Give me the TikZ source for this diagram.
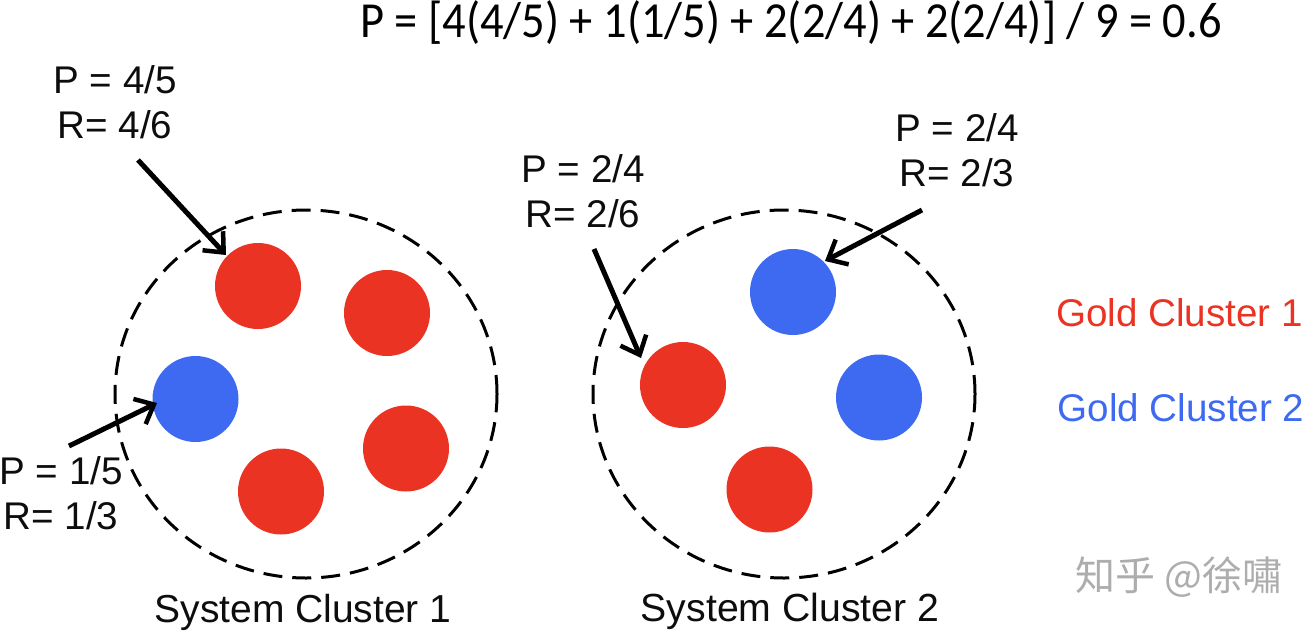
\documentclass[tikz,border=0pt]{standalone}
\usepackage{fontspec}
\setmainfont{Liberation Sans}
\newfontfamily\carl[FakeStretch=0.92]{Carlito}
\newfontfamily\cjk{Noto Sans CJK SC}
\usetikzlibrary{arrows.meta,shapes.geometric}
\definecolor{goldred}{HTML}{EA3323}
\definecolor{goldblue}{HTML}{3D6AF0}
\tikzset{
  x=1pt,y=-1pt,
  lab/.style={align=center,font=\fontsize{38.6}{45}\selectfont,inner sep=0pt,text=black!95},
  dot/.style={circle,minimum size=86pt,inner sep=0pt},
  rd/.style={dot,fill=goldred},
  bl/.style={dot,fill=goldblue},
  syscl/.style={draw=black,line width=3pt,dash pattern=on 19pt off 10pt},
  arr/.style={draw=black,line width=5pt,-{Straight Barb[length=16pt,width=28pt,line width=4.5pt]}},
}
\begin{document}
\begin{tikzpicture}
\useasboundingbox (0,0) rectangle (1316,632);
\node[syscl,ellipse,minimum width=382pt,minimum height=368pt,inner sep=0pt] (s1) at (306,394) {};
\node[syscl,ellipse,minimum width=382pt,minimum height=368pt,inner sep=0pt] (s2) at (784,394) {};
\node[rd] (a1) at (258,286) {};
\node[rd] (a2) at (387,313) {};
\node[bl] (a3) at (195.5,399) {};
\node[rd] (a4) at (406,448.5) {};
\node[rd] (a5) at (281,491.5) {};
\node[bl] (b1) at (793,292) {};
\node[bl] (b2) at (879,397.5) {};
\node[rd] (b3) at (683,385) {};
\node[rd] (b4) at (769.5,489.5) {};
\node[font=\carl\fontsize{50.5}{54}\selectfont,inner sep=0pt,text=black] (title) at (791,23) {P = [4(4/5) + 1(1/5) + 2(2/4) + 2(2/4)] / 9 = 0.6};
\node[lab] (t1) at (115,102) {P = 4/5\\R= 4/6};
\node[lab] (t2) at (61,493.5) {P = 1/5\\R= 1/3};
\node[lab] (t3) at (583,191) {P = 2/4\\R= 2/6};
\node[lab] (t4) at (957,150) {P = 2/4\\R= 2/3};
\node[lab,font=\fontsize{39}{45}\selectfont] (c1) at (303,612) {System Cluster 1};
\node[lab,font=\fontsize{39.2}{45}\selectfont] (c2) at (790,611) {System Cluster 2};
\node[lab,text=goldred] (g1) at (1179.5,313) {Gold Cluster 1};
\node[lab,text=goldblue] (g2) at (1181,408) {Gold Cluster 2};
\node[font=\cjk\fontsize{40}{44}\selectfont,inner sep=0pt,text=black!32] (wm) at (1179,577) {知乎 @徐嘯};
\coordinate (h1) at (226,255);
\coordinate (h3) at (157,403);
\coordinate (h5) at (641,358);
\coordinate (h6) at (825,261);
\coordinate (f1) at (138,160);
\coordinate (f3) at (69,446);
\coordinate (f5) at (594,249);
\coordinate (f6) at (922,210);
\draw[arr] (f1) -- (h1);
\draw[arr] (f3) -- (h3);
\draw[arr] (f5) -- (h5);
\draw[arr] (f6) -- (h6);
\end{tikzpicture}
\end{document}
